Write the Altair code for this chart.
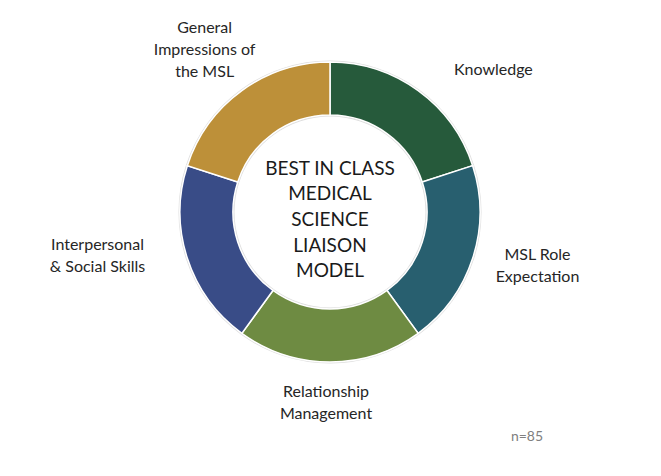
import altair as alt
import pandas as pd

categories = [
    "Knowledge",
    "MSL Role Expectation",
    "Relationship Management",
    "Interpersonal & Social Skills",
    "General Impressions of the MSL",
]
label_lines = [
    ["Knowledge"],
    ["MSL Role", "Expectation"],
    ["Relationship", "Management"],
    ["Interpersonal", "& Social Skills"],
    ["General", "Impressions of", "the MSL"],
]
shares = [1, 1, 1, 1, 1]
order = [0, 1, 2, 3, 4]
colors = ["#265A3B", "#285F6F", "#6E8B42", "#394C87", "#BD9039"]
center_title = ["BEST IN CLASS", "MEDICAL", "SCIENCE", "LIAISON", "MODEL"]
note = "n=85"

LH = 22
# label offsets (styling) relative to radius-215 anchor at segment middle
offsets = {
    "Knowledge": (37, 32),
    "MSL Role Expectation": (3, -12 - LH / 2),
    "Relationship Management": (-4, -24 - LH / 2),
    "Interpersonal & Social Skills": (-28, -22 - LH / 2),
    "General Impressions of the MSL": (1, 12 - LH),
}

df = pd.DataFrame({
    "category": categories,
    "label": ["\n".join(l) for l in label_lines],
    "share": shares,
    "order": order,
})

FONT = "Lato"

base = alt.Chart(df).encode(
    theta=alt.Theta("share:Q", stack=True),
    order=alt.Order("order:Q"),
)

shadow = base.mark_arc(outerRadius=151.5, innerRadius=95.5, color="#cfcfcf", opacity=0.7)

arcs = base.mark_arc(outerRadius=150, innerRadius=97, stroke="white", strokeWidth=1.5).encode(
    color=alt.Color("category:N", scale=alt.Scale(domain=categories, range=colors), legend=None)
)

layers = [shadow, arcs]
for cat in categories:
    dx, dy = offsets[cat]
    layers.append(
        base.mark_text(
            radius=215, dx=dx, dy=dy, font=FONT, fontSize=16, color="#262626",
            align="center", baseline="middle", lineBreak="\n", lineHeight=LH,
        ).encode(
            text=alt.condition(alt.datum.category == cat, "label:N", alt.value(""))
        )
    )

TLH = 25.7
title = alt.Chart(pd.DataFrame({"t": ["\n".join(center_title)]})).mark_text(
    font=FONT, fontSize=19, color="#1a1a1a", align="center", baseline="middle",
    lineBreak="\n", lineHeight=TLH, dy=8 - 2 * TLH,
).encode(text="t:N")

note_layer = alt.Chart(pd.DataFrame({"t": [note]})).mark_text(
    font=FONT, fontSize=14, color="#808080", align="center", baseline="middle",
).encode(text="t:N", x=alt.value(519), y=alt.value(429))

chart = alt.layer(*layers, title, note_layer).properties(
    width=644, height=408,
    padding={"top": 0, "left": 0, "right": 0, "bottom": 52},
    autosize=alt.AutoSizeParams(type="none"),
    background="white",
).configure_view(strokeWidth=0, stroke="transparent")

chart.save("out.html", embed_options={"renderer": "svg", "actions": False})
